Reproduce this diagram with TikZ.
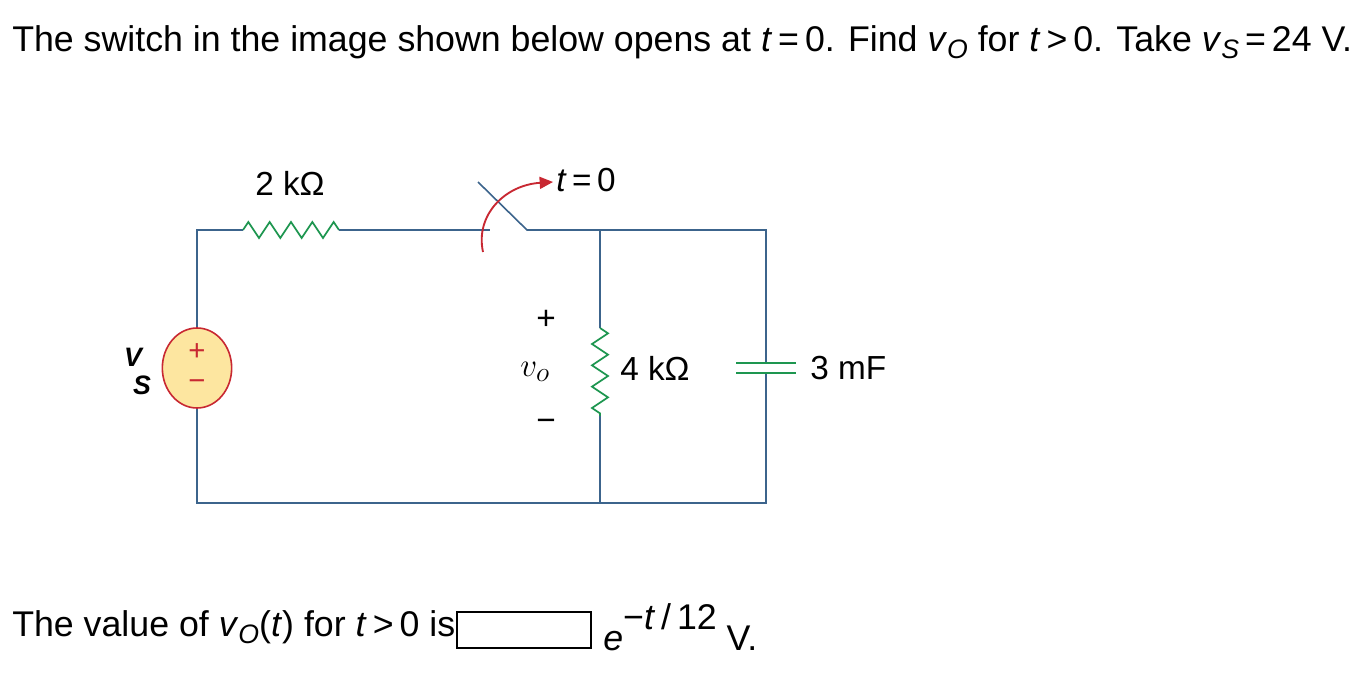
\documentclass[tikz,border=0pt]{standalone}
\usepackage{fontspec}
\setmainfont{Liberation Sans}
\usetikzlibrary{decorations.pathmorphing,arrows.meta,shapes.geometric}
\definecolor{wire}{RGB}{60,100,140}
\definecolor{res}{RGB}{30,150,80}
\definecolor{redc}{RGB}{200,40,50}
\definecolor{srcfill}{RGB}{253,230,160}
\newcommand{\subsm}[1]{\raisebox{-0.4ex}{\fontsize{20}{20}\selectfont\textit{#1}}}
\tikzset{
 wire/.style={draw=wire,line width=1.2pt},
 zz/.style={draw=res,line width=1.3pt,decorate,decoration={zigzag,segment length=16pt,amplitude=6pt}},
 lbl/.style={font=\fontsize{25}{27}\selectfont,inner sep=0pt},
 txt/.style={font=\fontsize{26.8}{30}\selectfont,inner sep=0pt,anchor=west},
}
\begin{document}
\begin{tikzpicture}[x=0.75pt,y=-0.75pt]
\useasboundingbox (0,0) rectangle (1371,682);
\node[txt] (title) at (12,42) {The switch in the image shown below opens at \textit{t}\,=\,0. Find \textit{v}\subsm{O} for \textit{t}\,>\,0. Take \textit{v}\subsm{S}\,=\,24 V.};
% nodes
\coordinate (tl) at (197,230);
\coordinate (bl) at (197,503);
\coordinate (r1a) at (243,230);
\coordinate (r1b) at (339,230);
\coordinate (swl) at (490,230);
\coordinate (swr) at (527,230);
\coordinate (swtip) at (478,182);
\coordinate (mt) at (600,230);
\coordinate (mb) at (600,503);
\coordinate (r2a) at (600,328);
\coordinate (r2b) at (600,416);
\coordinate (rt) at (766,230);
\coordinate (rb) at (766,503);
\coordinate (c1) at (766,363);
\coordinate (c2) at (766,373);
\node[ellipse,draw=redc,fill=srcfill,line width=1.2pt,minimum width=52pt,minimum height=60pt,inner sep=0pt] (src) at (197,368) {};
\node[text=redc,font=\fontsize{22}{22}\selectfont] (sp) at (197,352) {+};
\node[text=redc,font=\fontsize{22}{22}\selectfont] (sm) at (197,385) {\textminus};
% wires
\draw[wire] (src.north) -- (tl) -- (r1a);
\draw[zz] (r1a) -- (r1b);
\draw[wire] (r1b) -- (swl);
\draw[wire] (swtip) -- (swr) -- (rt) -- (c1);
\draw[wire] (c2) -- (rb) -- (bl) -- (src.south);
\draw[wire] (mt) -- (r2a);
\draw[zz] (r2a) -- (r2b);
\draw[wire] (r2b) -- (mb);
\draw[draw=res,line width=1.5pt] (736,363) -- (796,363) (736,373) -- (796,373);
\draw[redc,line width=1.4pt,-{Triangle[length=10pt,width=9pt]}] (483,252) .. controls (475,215) and (505,185) .. (553,182);
% labels
\node[lbl] (l2k) at (290,183) {2 kΩ};
\node[lbl,anchor=west] (lt) at (556,180) {\textit{t}\,=\,0};
\node[lbl,anchor=west] (l4k) at (620,368) {4 kΩ};
\node[lbl,anchor=west] (l3m) at (810,368) {3 mF};
\node[lbl] (vop) at (546,320) {+};
\node[lbl] (vom) at (546,425) {\textminus};
\node[lbl,font=\fontsize{28}{28}\selectfont] (vo) at (535,372) {$v_o$};
\node[font=\fontsize{20}{20}\selectfont\bfseries\itshape,inner sep=0pt] (vsv) at (133,357) {V};
\node[font=\fontsize{20}{20}\selectfont\bfseries\itshape,inner sep=0pt] (vss) at (142,385) {S};
% bottom line
\node[txt] (ans) at (12,627) {The value of \textit{v}\subsm{O}(\textit{t}) for \textit{t}\,>\,0 is};
\node[draw,line width=1pt,minimum width=100.5pt,minimum height=27pt,inner sep=0pt] (box) at (524,630) {};
\node[txt] (ex) at (603,627) {\textit{e}\raisebox{1.1ex}{\textminus\textit{t}\,/\,12} V.};
\end{tikzpicture}
\end{document}
